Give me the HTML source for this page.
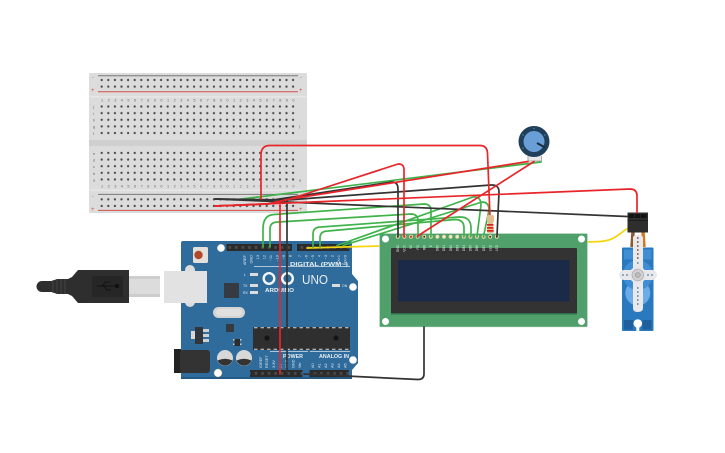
<!DOCTYPE html>
<html><head><meta charset="utf-8"><title>Arduino circuit</title>
<style>html,body{margin:0;padding:0;background:#fff;width:725px;height:453px;overflow:hidden}svg{display:block}text{font-family:"Liberation Sans",sans-serif}</style></head>
<body>
<svg width="725" height="453" viewBox="0 0 725 453" xmlns="http://www.w3.org/2000/svg">
<defs>
<pattern id="bh" x="98.4" width="6.6" height="6.63" patternUnits="userSpaceOnUse" y="76.7"><circle cx="3.3" cy="3.3" r="1.15" fill="#4a4a4a"/></pattern>
<pattern id="ph" x="226.5" y="244" width="6.55" height="7" patternUnits="userSpaceOnUse"><rect width="6.55" height="7" fill="#2b2b2b"/><rect x="2" y="2" width="2.6" height="2.8" fill="#4b4b4b"/></pattern>
</defs>

<!-- breadboard -->
<rect x="89" y="73" width="218" height="140" rx="1.5" fill="#dcdcdc"/>
<rect x="89" y="96" width="218" height="1.5" fill="#e6e6e6"/>
<rect x="89" y="140" width="218" height="6" fill="#cfcfcf"/>
<rect x="89" y="189.5" width="218" height="1.5" fill="#e6e6e6"/>
<line x1="98" y1="75.8" x2="298" y2="75.8" stroke="#777" stroke-width="1"/>
<line x1="98" y1="91.7" x2="298" y2="91.7" stroke="#d2504c" stroke-width="1"/>
<line x1="98" y1="194.4" x2="298" y2="194.4" stroke="#777" stroke-width="1"/>
<line x1="98" y1="210.4" x2="298" y2="210.4" stroke="#d2504c" stroke-width="1"/>
<rect x="98.4" y="76.7" width="198" height="13.2" fill="url(#bh)"/>
<rect x="98.4" y="103.4" width="198" height="33.2" fill="url(#bh)"/>
<rect x="98.4" y="150" width="198" height="33.2" fill="url(#bh)"/>
<rect x="98.4" y="196" width="198" height="13.3" fill="url(#bh)"/>
<g fill="#d2504c" font-size="6"><text x="91" y="92">+</text><text x="299" y="92">+</text><text x="91" y="211">+</text><text x="299" y="211">+</text></g>
<g fill="#777" font-size="5"><text x="92" y="79">-</text><text x="300" y="79">-</text><text x="92" y="198">-</text><text x="300" y="198">-</text></g>
<g fill="#666" font-size="3.8">
<text x="101 107.6 114.2 120.8 127.4 134 140.6 147.2 153.8 160.4 167 173.6 180.2 186.8 193.4 200 206.6 213.2 219.8 226.4 233 239.6 246.2 252.8 259.4 266 272.6 279.2 285.8 292.4" y="101.5">123456789012345678901234567890</text>
<text x="101 107.6 114.2 120.8 127.4 134 140.6 147.2 153.8 160.4 167 173.6 180.2 186.8 193.4 200 206.6 213.2 219.8 226.4 233 239.6 246.2 252.8 259.4 266 272.6 279.2 285.8 292.4" y="187.5">123456789012345678901234567890</text>
<text x="93" y="108">j</text><text x="93" y="115">i</text><text x="93" y="121.5">h</text><text x="93" y="128">g</text><text x="93" y="135">f</text>
<text x="93" y="155">e</text><text x="93" y="161.5">d</text><text x="93" y="168">c</text><text x="93" y="175">b</text><text x="93" y="181.5">a</text>
<text x="299" y="127.5">j</text><text x="299" y="181.5">a</text>
</g>

<!-- USB cable -->
<path d="M42 281 H52 L57 279 H68 L72 277 L78 270 H129 V303 H78 L72 296 L68 294 H57 L52 292 H42 A5.5 5.5 0 0 1 42 281 Z" fill="#2e2e2e"/>
<g stroke="#444" stroke-width="1"><line x1="53" y1="280" x2="53" y2="293"/><line x1="57" y1="279" x2="57" y2="294"/><line x1="61" y1="279" x2="61" y2="294"/><line x1="65" y1="279" x2="65" y2="294"/></g>
<rect x="92" y="276" width="31" height="21" fill="#262626"/>
<g stroke="#111" stroke-width="1" fill="#111"><line x1="97" y1="286" x2="117" y2="286"/><circle cx="117" cy="286" r="1.8"/><path d="M102 286 L106 282 H110 M104 286 L107 290 H111" fill="none"/></g>
<rect x="129" y="276" width="31" height="21" fill="#cdcdcd"/>
<rect x="129" y="279" width="31" height="15" fill="#dcdcdc"/>

<!-- Arduino -->
<path d="M183 241 H350 Q352 241 352 243 V274 L358 281 V363 L352 370 V377 Q352 379 350 379 H183 Q181 379 181 377 V243 Q181 241 183 241 Z" fill="#2f6c9c"/>
<rect x="181" y="377" width="171" height="2" fill="#235a85"/>
<path d="M185 270 A5 5 0 0 1 195 270 V302 A5 5 0 0 1 185 302 Z" fill="#dcdcdc"/>
<rect x="164" y="271" width="43" height="32" fill="#e2e2e2"/>
<rect x="193" y="247" width="15" height="16" rx="1.5" fill="#e4e0da"/><circle cx="198.5" cy="255" r="4.2" fill="#b04a2c"/>
<circle cx="221" cy="248" r="3.8" fill="#fff"/><circle cx="218" cy="373" r="3.8" fill="#fff" stroke="#e8d9a0" stroke-width=".6"/><circle cx="353" cy="287" r="3.8" fill="#fff"/><circle cx="353" cy="360" r="3.8" fill="#fff"/>
<rect x="226.5" y="244" width="65.5" height="7" fill="url(#ph)"/>
<rect x="297" y="244" width="52.4" height="7" fill="url(#ph)"/>
<rect x="250" y="370" width="52.4" height="7" fill="url(#ph)"/>
<rect x="309.5" y="370" width="39.3" height="7" fill="url(#ph)"/>
<rect x="224" y="283" width="15" height="15" fill="#353b40"/>
<rect x="213" y="307" width="32" height="11" rx="5.5" fill="#d4d4d4"/>
<rect x="216" y="309" width="26" height="7" rx="3.5" fill="#e0e0e0"/>
<rect x="226" y="324" width="8" height="8" fill="#353b40"/>
<rect x="253" y="327" width="97" height="23" fill="#2f2f2f"/>
<line x1="254" y1="327.800" x2="350" y2="327.800" stroke="#d8d8d8" stroke-width="1" stroke-dasharray="3.500 3"/>
<line x1="254" y1="349.200" x2="350" y2="349.200" stroke="#d8d8d8" stroke-width="1" stroke-dasharray="3.500 3"/>
<circle cx="267" cy="338" r="2.6" fill="#151515"/><circle cx="336" cy="338" r="2.6" fill="#151515"/>
<rect x="191" y="331" width="5" height="8" fill="#d8d8d8"/>
<rect x="195" y="327" width="8" height="17" fill="#30363b"/>
<g fill="#cfcfcf"><rect x="203" y="329" width="6" height="3"/><rect x="203" y="334" width="6" height="3"/><rect x="203" y="339" width="6" height="3"/></g>
<rect x="234.500" y="339" width="5.500" height="7" fill="#2c2c2c"/><g fill="#ccc"><rect x="233" y="339" width="1.500" height="1.500"/><rect x="233" y="343.500" width="1.500" height="1.500"/><rect x="240" y="339" width="1.500" height="1.500"/><rect x="240" y="343.500" width="1.500" height="1.500"/></g>
<circle cx="225" cy="358" r="8" fill="#d8d8d8"/><path d="M217.500 360.500 A8 8 0 0 0 232.500 360.500 Q225 357 217.500 360.500Z" fill="#333"/>
<circle cx="244" cy="358" r="8" fill="#d8d8d8"/><path d="M236.500 360.500 A8 8 0 0 0 251.500 360.500 Q244 357 236.500 360.500Z" fill="#333"/>
<rect x="174" y="349" width="7" height="24" fill="#222"/>
<rect x="180" y="350" width="30" height="23" rx="3" fill="#333"/>
<g fill="#dcdcdc"><rect x="250" y="273" width="8" height="3"/><rect x="250" y="284" width="8" height="3"/><rect x="250" y="291" width="8" height="3"/><rect x="332" y="284" width="8" height="3"/></g>
<rect x="254" y="266" width="96" height=".8" fill="#cfdde8"/>
<rect x="270" y="351" width="38" height=".8" fill="#cfdde8"/><rect x="310" y="351" width="40" height=".8" fill="#cfdde8"/>
<circle cx="269" cy="278.500" r="5.300" fill="none" stroke="#f2f6f9" stroke-width="2.400"/><circle cx="287.500" cy="278.500" r="5.300" fill="none" stroke="#f2f6f9" stroke-width="2.400"/>
<g fill="#e8eff4">
<text x="302" y="284" font-size="13" textLength="26" lengthAdjust="spacingAndGlyphs">UNO</text>
<text x="265" y="292" font-size="5.500" font-weight="bold" textLength="29" lengthAdjust="spacingAndGlyphs">ARDUINO</text>
<text x="290" y="266" font-size="5.500" font-weight="bold" textLength="58" lengthAdjust="spacingAndGlyphs">DIGITAL (PWM~)</text>
<text x="283" y="358" font-size="5.500" font-weight="bold" textLength="20" lengthAdjust="spacingAndGlyphs">POWER</text>
<text x="319" y="358" font-size="5.500" font-weight="bold" textLength="30" lengthAdjust="spacingAndGlyphs">ANALOG IN</text>
<text x="342" y="287" font-size="3.500">ON</text><text x="244" y="276" font-size="3.500">L</text><text x="243" y="287" font-size="3.500">TX</text><text x="243" y="294" font-size="3.500">RX</text>
</g>
<g fill="#dfe8ef" font-size="3.800" text-anchor="end">
<text transform="translate(246 255) rotate(-90)">AREF</text><text transform="translate(252.500 255) rotate(-90)">GND</text><text transform="translate(259 255) rotate(-90)">13</text><text transform="translate(265.500 255) rotate(-90)">12</text><text transform="translate(272 255) rotate(-90)">~11</text><text transform="translate(278.500 255) rotate(-90)">~10</text><text transform="translate(285 255) rotate(-90)">~9</text><text transform="translate(291.500 255) rotate(-90)">8</text>
<text transform="translate(301 255) rotate(-90)">7</text><text transform="translate(307.500 255) rotate(-90)">~6</text><text transform="translate(314 255) rotate(-90)">~5</text><text transform="translate(320.500 255) rotate(-90)">4</text><text transform="translate(327 255) rotate(-90)">~3</text><text transform="translate(333.500 255) rotate(-90)">2</text><text transform="translate(340 255) rotate(-90)">TX&gt;1</text><text transform="translate(346.500 255) rotate(-90)">RX&lt;0</text>
</g>
<g fill="#dfe8ef" font-size="3.800" text-anchor="start">
<text transform="translate(262 368) rotate(-90)">IOREF</text><text transform="translate(268 368) rotate(-90)">RESET</text><text transform="translate(275 368) rotate(-90)">3.3V</text><text transform="translate(281.500 368) rotate(-90)">5V</text><text transform="translate(288 368) rotate(-90)">GND</text><text transform="translate(294.500 368) rotate(-90)">GND</text><text transform="translate(301 368) rotate(-90)">Vin</text>
<text transform="translate(314 368) rotate(-90)">A0</text><text transform="translate(320.500 368) rotate(-90)">A1</text><text transform="translate(327 368) rotate(-90)">A2</text><text transform="translate(333.500 368) rotate(-90)">A3</text><text transform="translate(340 368) rotate(-90)">A4</text><text transform="translate(346.500 368) rotate(-90)">A5</text>
</g>

<!-- yellow wire behind LCD -->
<g fill="none" stroke="#f3d60f" stroke-width="1.700" stroke-linecap="round"><path d="M307 248 L380 246 L588 242 L600 241.500 Q610 241 617 236 L628 228"/></g>

<!-- LCD -->
<rect x="379.500" y="233.500" width="208" height="93.500" rx="1" fill="#50a06c" stroke="#c9e0d0" stroke-width=".6"/>
<rect x="391" y="248" width="186" height="66" rx="1" fill="#333"/><rect x="391" y="313" width="186" height="1.500" fill="#2f6f4b"/>
<rect x="398" y="260" width="171.500" height="41.500" fill="#1b2a49"/>
<circle cx="385.500" cy="239" r="3.500" fill="#fff"/><circle cx="581.500" cy="239" r="3.500" fill="#fff"/><circle cx="385.500" cy="321.500" r="3.500" fill="#fff"/><circle cx="581.500" cy="321.500" r="3.500" fill="#fff"/>
<g fill="#2d2d2d" stroke="#e8d9a0" stroke-width="1"><circle cx="397.800" cy="236.800" r="1.500"/><circle cx="404.400" cy="236.800" r="1.500"/><circle cx="411" cy="236.800" r="1.500"/><circle cx="417.600" cy="236.800" r="1.500"/><circle cx="424.200" cy="236.800" r="1.500"/><circle cx="430.800" cy="236.800" r="1.500" fill="#4f9f6b"/><circle cx="437.400" cy="236.800" r="1.500" fill="#f2eed8"/><circle cx="444" cy="236.800" r="1.500" fill="#f2eed8"/><circle cx="450.600" cy="236.800" r="1.500" fill="#f2eed8"/><circle cx="457.200" cy="236.800" r="1.500" fill="#f2eed8"/><circle cx="463.800" cy="236.800" r="1.500" fill="#4f9f6b"/><circle cx="470.400" cy="236.800" r="1.500" fill="#4f9f6b"/><circle cx="477" cy="236.800" r="1.500" fill="#4f9f6b"/><circle cx="483.600" cy="236.800" r="1.500" fill="#4f9f6b"/><circle cx="490.200" cy="236.800" r="1.500"/><circle cx="496.800" cy="236.800" r="1.500"/></g>
<g fill="#e4efe7" font-size="3.200" text-anchor="end">
<text transform="translate(399 245) rotate(-90)">GND</text><text transform="translate(405.600 245) rotate(-90)">VCC</text><text transform="translate(412.200 245) rotate(-90)">V0</text><text transform="translate(418.800 245) rotate(-90)">RS</text><text transform="translate(425.400 245) rotate(-90)">RW</text><text transform="translate(432 245) rotate(-90)">E</text><text transform="translate(438.600 245) rotate(-90)">DB0</text><text transform="translate(445.200 245) rotate(-90)">DB1</text><text transform="translate(451.800 245) rotate(-90)">DB2</text><text transform="translate(458.400 245) rotate(-90)">DB3</text><text transform="translate(465 245) rotate(-90)">DB4</text><text transform="translate(471.600 245) rotate(-90)">DB5</text><text transform="translate(478.200 245) rotate(-90)">DB6</text><text transform="translate(484.800 245) rotate(-90)">DB7</text><text transform="translate(491.400 245) rotate(-90)">LED</text><text transform="translate(498 245) rotate(-90)">LED</text>
</g>

<!-- servo -->
<rect x="622" y="247.500" width="31.500" height="83.500" rx="1" fill="#2a78bd"/>
<rect x="624" y="249.500" width="9" height="10" fill="#3f8ed4"/><rect x="642.500" y="249.500" width="9" height="10" fill="#3f8ed4"/>
<rect x="624" y="320" width="9" height="9.500" fill="#1f5f9e"/><rect x="642.500" y="320" width="9" height="9.500" fill="#1f5f9e"/>
<circle cx="637.800" cy="293" r="12.500" fill="#6bace8"/>
<circle cx="637.800" cy="275" r="15" fill="#3f8ed4"/>
<circle cx="637.800" cy="323.500" r="4.300" fill="#fff"/><rect x="636.300" y="325" width="3" height="6" fill="#fff"/>
<path d="M633 232 L632 247" stroke="#8a5a30" stroke-width="3.500" fill="none"/>
<path d="M643 232 L644 247" stroke="#d27a22" stroke-width="3.500" fill="none"/>
<path d="M633 238 Q633 235 637.800 235 Q643 235 643 238 V308 Q643 312 637.800 312 Q633 312 633 308Z" fill="#e9e9ec"/>
<rect x="619" y="270" width="38" height="10" rx="5" fill="#e9e9ec"/>
<circle cx="637.800" cy="275" r="8.500" fill="#e6e6ea"/><circle cx="637.800" cy="275" r="5.800" fill="#d0d0d4" stroke="#aaa" stroke-width=".7"/><circle cx="637.800" cy="275" r="2.500" fill="#bbb" stroke="#888" stroke-width=".5"/>
<g fill="#7e3a3a"><circle cx="637.800" cy="238" r=".9"/><circle cx="637.800" cy="242" r=".9"/><circle cx="637.800" cy="246" r=".9"/><circle cx="637.800" cy="250" r=".9"/><circle cx="637.800" cy="254" r=".9"/><circle cx="637.800" cy="258" r=".9"/></g>
<g fill="#4b7ea8"><circle cx="637.800" cy="263" r=".9"/><circle cx="637.800" cy="288" r=".9"/><circle cx="637.800" cy="292" r=".9"/><circle cx="637.800" cy="296" r=".9"/><circle cx="637.800" cy="300" r=".9"/><circle cx="637.800" cy="304" r=".9"/><circle cx="623" cy="275" r=".9"/><circle cx="627" cy="275" r=".9"/><circle cx="648" cy="275" r=".9"/><circle cx="652" cy="275" r=".9"/></g>
<rect x="627.500" y="212.500" width="20.500" height="20" fill="#2e2e2e"/>
<path d="M628.500 214 h5.500 v4 h-5.500z M634.800 214 h5.500 v4 h-5.500z M641 214 h5.500 v4 h-5.500z" fill="#141414"/>
<rect x="627.500" y="220" width="20.500" height="1" fill="#1d1d1d"/>

<!-- potentiometer -->
<path d="M528 156 V161 H541.500 V156" fill="#e8e8e8" stroke="#999" stroke-width=".8"/>
<circle cx="534" cy="141.500" r="15.500" fill="#1f3f5a"/>
<circle cx="534" cy="141.500" r="10.500" fill="#6a9ed6"/>
<line x1="537" y1="143" x2="545" y2="147.500" stroke="#1a2c3d" stroke-width="2"/>
<g fill="#4c7fa6"><circle cx="534" cy="128.500" r=".8"/><circle cx="523" cy="135" r=".8"/><circle cx="545" cy="135" r=".8"/><circle cx="523" cy="148" r=".8"/></g>

<!-- wires -->
<g fill="none" stroke-linecap="round" stroke-linejoin="round" stroke-width="1.700">
<g stroke="#3fb34a">
<path d="M242 199 L541 162"/>
<path d="M263 247 V229 Q263 215 274 214.500 L424 204 Q431 204 431 211 V236"/>
<path d="M270 247 V229 Q270 222 278 222 L411 214 Q418 214 418 221 V236"/>
<path d="M313 247 V234 Q313 227 321 227 L459 217 Q471 216.500 471 228 V236"/>
<path d="M320 247 V238 Q320 231 328 231 L455 219.500 Q464 219.500 464 228 V236"/>
<path d="M337 245.500 L473 197 Q481 196 481 205 L477 236"/>
<path d="M343 245.500 L482 202 Q489 202 489 210 L483.600 236"/>
</g>
<g stroke="#333">
<path d="M215 199 L273 200 L392 182 Q398 182 398 189 V236"/>
<path d="M215 199 L627 216.500"/>
<path d="M215 199 L287 200 L491 185 Q499 184.500 499 192 L497 236"/>
<path d="M287 200 V374"/>
<path d="M304 374 L418 379.500 Q424 379.500 424 374 V327"/>
</g>
<g stroke="#e8262a">
<path d="M261 199 V155 Q261 145.500 270 145.500 L480 145.500 Q487 145.500 487.500 153 L490 217"/>
<path d="M215 206 L268 204 L290 199 L398 164 Q404 163.500 404 170 V236"/>
<path d="M215 206 L630 189 Q637 189 637 196 V212.500"/>
<path d="M417.600 236 L534 161.500"/>
<path d="M215 206 L268 204 L290 199 L528 161.500"/>
<path d="M280 205 V374"/>
</g>
</g>
<g fill="#e8262a"><circle cx="404.400" cy="236.800" r="1"/><circle cx="411" cy="236.800" r="1"/></g>

<!-- resistor -->
<line x1="490.300" y1="232" x2="490.300" y2="236" stroke="#bbb" stroke-width="1"/>
<path d="M488.500 215 h3.800 q1.700 0 1.700 2 v4 l-1 2 v4 l1 2 v2 q0 2 -1.700 2 h-3.800 q-1.700 0 -1.700 -2 v-2 l1 -2 v-4 l-1 -2 v-4 q0 -2 1.700 -2z" fill="#e0be90"/>
<g fill="#e02020"><rect x="487" y="224" width="6.500" height="1.700"/><rect x="487" y="227" width="6.500" height="1.700"/><rect x="487" y="230" width="6.500" height="1.700"/></g>
</svg>
</body></html>
